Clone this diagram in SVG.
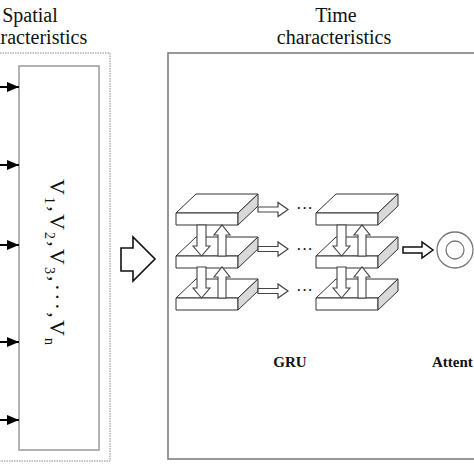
<svg xmlns="http://www.w3.org/2000/svg" xmlns:xlink="http://www.w3.org/1999/xlink" width="474" height="474" viewBox="0 0 474 474">
<style>
.lbl{font-family:"Liberation Serif","Times New Roman",serif;font-size:20px;fill:#111;text-anchor:middle}
.bold{font-family:"Liberation Serif","Times New Roman",serif;font-size:15px;font-weight:bold;fill:#111}
.slab{stroke:#333;stroke-width:1;stroke-linejoin:round}
.harrow{fill:#fff;stroke:#444;stroke-width:1.2}
.varrow{fill:#fff;stroke:#444;stroke-width:1.1}
.dots{font-family:"Liberation Serif","Times New Roman",serif;font-size:17px;fill:#111}
</style>
<defs>
<marker id="ah" markerWidth="12" markerHeight="10" refX="12" refY="5" orient="auto" markerUnits="userSpaceOnUse">
<path d="M0,0 L12,5 L0,10 Z" fill="#000"/>
</marker>
<g id="slab">
<polygon class="slab" points="0,0 20,-19 82,-19 62,0" fill="#fff"/>
<rect class="slab" x="0" y="0" width="62" height="12" fill="#fff"/>
<polygon class="slab" points="62,0 82,-19 82,-7 62,12" fill="#d9d9d9"/>
</g>
<g id="vpair">
<polygon class="varrow" points="21,12 30,12 30,33 34,33 25.5,43 17,33 21,33"/>
<polygon class="varrow" points="42,43 50,43 50,22 54,22 46,12 38,22 42,22"/>
</g>
<polygon id="harr" class="harrow" points="0,-2.5 20,-2.5 20,-7 30,0 20,7 20,2.5 0,2.5"/>
</defs>

<!-- titles -->
<g id="title-spatial">
<text class="lbl" x="30" y="22">Spatial</text>
<text class="lbl" x="30" y="44">characteristics</text>
</g>
<g id="title-time">
<text class="lbl" x="336" y="22">Time</text>
<text class="lbl" x="334" y="44">characteristics</text>
</g>

<!-- spatial block -->
<g id="spatial-outer">
<rect x="-10" y="53" width="120" height="408" fill="none" stroke="#888" stroke-width="1" stroke-dasharray="1.5,1"/>
</g>
<g id="spatial-inner">
<rect x="19" y="66" width="80" height="384" fill="#fff" stroke="#999" stroke-width="1.5"/>
<text transform="translate(50,179) rotate(90)" font-family="Liberation Serif, Times New Roman, serif" font-size="22" fill="#111" textLength="166" lengthAdjust="spacing">V<tspan font-size="14" dy="5">1</tspan><tspan dy="-5">,V</tspan><tspan font-size="14" dy="5">2</tspan><tspan dy="-5">,V</tspan><tspan font-size="14" dy="5">3</tspan><tspan dy="-5">,···,V</tspan><tspan font-size="14" dy="5">n</tspan></text>
</g>

<!-- time block -->
<g id="time-box">
<rect x="168" y="53" width="320" height="406" fill="none" stroke="#777" stroke-width="1.5"/>
</g>

<!-- GRU column 1 -->
<g id="gru-col1">
<use xlink:href="#slab" x="176" y="298"/>
<use xlink:href="#slab" x="176" y="256"/>
<use xlink:href="#slab" x="176" y="213"/>
<use xlink:href="#vpair" x="176" y="213"/>
<use xlink:href="#vpair" x="176" y="255"/>
</g>
<!-- GRU column 2 -->
<g id="gru-col2">
<use xlink:href="#slab" x="316" y="298"/>
<use xlink:href="#slab" x="316" y="256"/>
<use xlink:href="#slab" x="316" y="213"/>
<use xlink:href="#vpair" x="316" y="213"/>
<use xlink:href="#vpair" x="316" y="255"/>
</g>

<g id="dots">
<text class="dots" x="296" y="214">···</text>
<text class="dots" x="296" y="255">···</text>
<text class="dots" x="296" y="296">···</text>
</g>

<!-- attention -->
<g id="attention">
<circle cx="455" cy="250" r="18" fill="none" stroke="#777" stroke-width="1.3"/>
<circle cx="455" cy="250" r="9" fill="none" stroke="#777" stroke-width="1.3"/>
</g>

<g id="labels">
<text class="bold" x="290" y="367" text-anchor="middle">GRU</text>
<text class="bold" x="432" y="367">Attent</text>
</g>

<!-- connectors -->
<g id="connectors">
<line x1="-2" y1="87" x2="19" y2="87" stroke="#000" stroke-width="2" marker-end="url(#ah)"/>
<line x1="-2" y1="165" x2="19" y2="165" stroke="#000" stroke-width="2" marker-end="url(#ah)"/>
<line x1="-2" y1="245" x2="19" y2="245" stroke="#000" stroke-width="2" marker-end="url(#ah)"/>
<line x1="-2" y1="342" x2="19" y2="342" stroke="#000" stroke-width="2" marker-end="url(#ah)"/>
<line x1="-2" y1="420" x2="19" y2="420" stroke="#000" stroke-width="2" marker-end="url(#ah)"/>
<polygon points="121,248 133,248 133,237 155,259 133,281 133,271 121,271" fill="#fff" stroke="#111" stroke-width="1.6" stroke-linejoin="miter"/>
<use xlink:href="#harr" x="258" y="209.5"/>
<use xlink:href="#harr" x="258" y="249"/>
<use xlink:href="#harr" x="258" y="291"/>
<polygon points="403,247 422,247 422,242 433,250 422,258 422,253 403,253" fill="#fff" stroke="#111" stroke-width="1.5"/>
</g>
</svg>
